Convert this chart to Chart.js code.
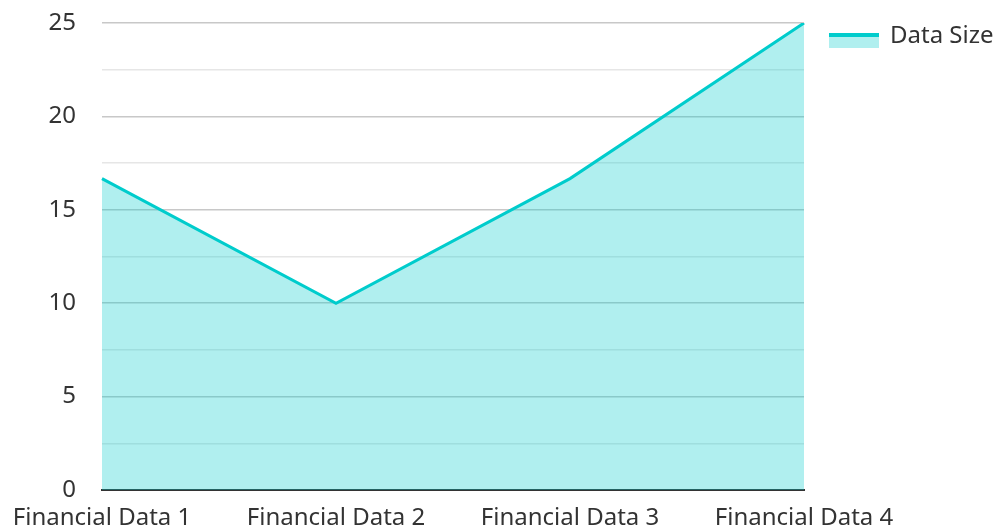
<!DOCTYPE html>
<html>
<head>
<meta charset="utf-8">
<script src="https://cdn.jsdelivr.net/npm/chart.js@4.4.1/dist/chart.umd.min.js"></script>
<style>
  html, body { margin: 0; padding: 0; background: #fff; }
  #wrap { width: 998px; height: 531px; }
</style>
</head>
<body>
<div id="wrap"><canvas id="grafico"></canvas></div>
<script>
// dados do grafico
const categorias = ['Financial Data 1', 'Financial Data 2', 'Financial Data 3', 'Financial Data 4'];
const valores = [16.67, 10, 16.67, 25];
const nomeSerie = 'Data Size';

const corLinha = 'rgb(0, 204, 204)';
const corArea = 'rgba(0, 204, 204, 0.31)';

// legenda desenhada a mao (linha em cima da caixa)
const legendaPlugin = {
  id: 'legendaDireita',
  afterDraw(chart) {
    const ctx = chart.ctx;
    const x = 829, y = 35;
    ctx.save();
    ctx.fillStyle = corArea;
    ctx.fillRect(x, y, 50, 13);
    ctx.strokeStyle = corLinha;
    ctx.lineWidth = 4;
    ctx.beginPath();
    ctx.moveTo(x, y);
    ctx.lineTo(x + 50, y);
    ctx.stroke();
    ctx.fillStyle = '#333';
    ctx.font = '24px "Noto Sans"';
    ctx.textBaseline = 'middle';
    ctx.fillText(nomeSerie, 890, y + 1);
    ctx.restore();
  }
};

new Chart(document.getElementById('grafico'), {
  type: 'line',
  data: {
    labels: categorias,
    datasets: [{
      label: nomeSerie,
      data: valores,
      borderColor: corLinha,
      backgroundColor: corArea,
      borderWidth: 3,
      fill: 'origin',
      pointRadius: 0,
      tension: 0
    }]
  },
  options: {
    responsive: true,
    maintainAspectRatio: false,
    animation: false,
    layout: { padding: { top: 23, right: 194, left: 0, bottom: 0 } },
    plugins: {
      legend: { display: false },
      tooltip: { enabled: false }
    },
    scales: {
      x: {
        offset: false,
        grid: { display: false },
        border: { display: true, color: '#333', width: 2 },
        ticks: {
          color: '#333',
          font: { family: 'Noto Sans', size: 24 },
          padding: 6,
          maxRotation: 0,
          autoSkip: false
        },
        afterFit(scale) {
          scale.height = 41;
          scale.paddingLeft = 0;
          scale.paddingRight = 0;
        }
      },
      y: {
        min: 0,
        max: 25,
        border: { display: false },
        grid: {
          drawTicks: false,
          color(c) { return c.tick.value % 5 === 0 ? '#c8c8c8' : '#e6e6e6'; },
          lineWidth: 1.5
        },
        ticks: {
          stepSize: 2.5,
          color: '#333',
          font: { family: 'Noto Sans', size: 24 },
          padding: 26,
          callback(v) { return v % 5 === 0 ? v : ''; }
        },
        afterFit(scale) {
          scale.width = 102;
          scale.paddingTop = 0;
          scale.paddingBottom = 0;
        }
      }
    }
  },
  plugins: [legendaPlugin]
});
</script>
</body>
</html>
